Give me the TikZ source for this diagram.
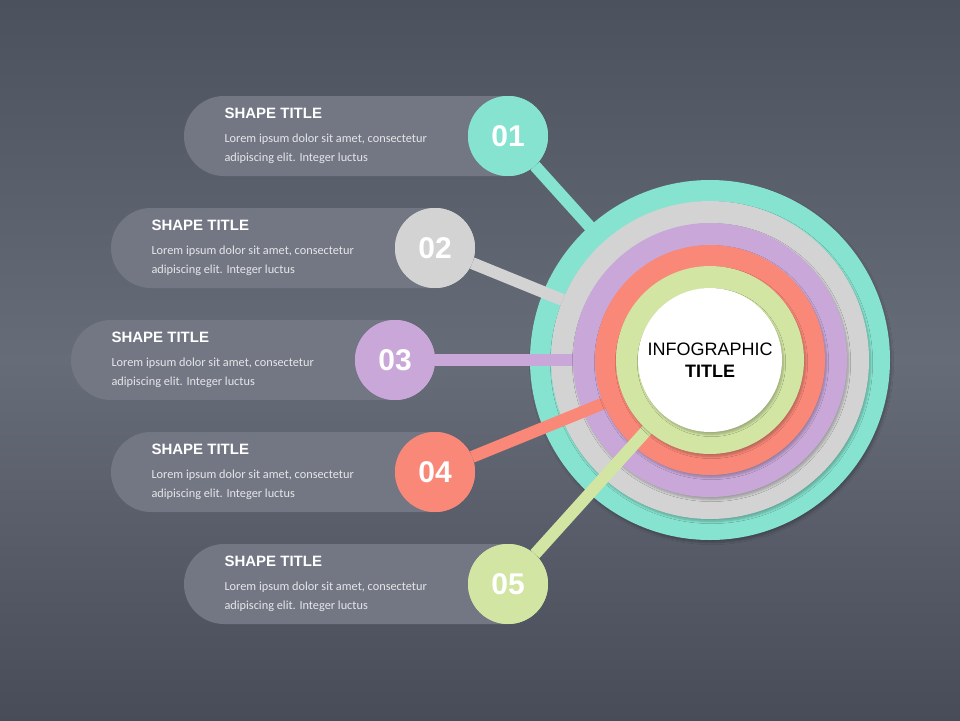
\documentclass[tikz,border=0pt]{standalone}
\usepackage{fontspec}
\setmainfont{Liberation Sans}
\newfontfamily\bodyfont{Carlito}
\usetikzlibrary{shadows.blur}
\definecolor{cteal}{HTML}{86E3CF}
\definecolor{cgray}{HTML}{D3D3D3}
\definecolor{cpurp}{HTML}{C9A8D9}
\definecolor{cred}{HTML}{F98878}
\definecolor{cgreen}{HTML}{D2E5A3}
\definecolor{pill}{HTML}{737784}
\definecolor{bgtop}{HTML}{4C515E}
\definecolor{bgmid}{HTML}{676C79}
\definecolor{bgbot}{HTML}{484C58}
\begin{document}
\begin{tikzpicture}[x=1pt,y=-1pt,
  ring/.style={circle,inner sep=0pt,minimum size=#1,blur shadow={shadow blur steps=6,shadow xshift=1.5pt,shadow yshift=-2.5pt,shadow opacity=25}},
  conn/.style={line width=12pt},
  pillbox/.style={fill=pill,rounded corners=40pt},
  badge/.style={circle,minimum size=80pt,inner sep=0pt,font=\bfseries\fontsize{30}{30}\selectfont,text=white},
  ttl/.style={anchor=west,text=white,font=\bfseries\fontsize{15}{15}\selectfont},
  body/.style={anchor=north west,text=white!82!pill,align=left,font=\bodyfont\fontsize{12.3}{19}\selectfont}]
\shade[top color=bgtop,bottom color=bgbot,middle color=bgmid] (0,0) rectangle (960,720);
\useasboundingbox (0,0) rectangle (960,720);
% pills
\foreach \x/\y in {184/96,111/208,71/320,111/432,184/544}{
  \fill[pillbox] (\x,\y) rectangle (\x+364,\y+80);}
\foreach \x/\y [count=\i] in {225/113,152/225,112/337,152/449,225/561}{
  \node[ttl] (t\i) at (\x-4,\y) {SHAPE TITLE};
  \node[body] (b\i) at (\x-4,\y+17) {Lorem ipsum dolor sit amet, consectetur\\adipiscing elit. Integer luctus};}
% circles and connectors
\coordinate (c) at (710,360);
\node[badge,fill=cteal] (n1) at (508,136) {};
\node[badge,fill=cgray] (n2) at (435,248) {};
\node[badge,fill=cpurp] (n3) at (395,360) {};
\node[badge,fill=cred] (n4) at (435,472) {};
\node[badge,fill=cgreen] (n5) at (508,584) {};
\node[ring=360pt,fill=cteal] (r1) at (c) {};
\draw[conn,cteal] (n1) -- (c);
\draw[conn,cgray] (n2) -- (c);
\node[ring=318pt,fill=cgray] (r2) at (c) {};
\draw[conn,cpurp] (n3) -- (c);
\node[ring=274pt,fill=cpurp] (r3) at (c) {};
\draw[conn,cred] (n4) -- (c);
\node[ring=230pt,fill=cred] (r4) at (c) {};
\draw[conn,cgreen] (n5) -- (c);
\node[ring=188pt,fill=cgreen] (r5) at (c) {};
\node[ring=144pt,fill=white,align=center,font=\fontsize{18}{22}\selectfont] (r6) at (c) {INFOGRAPHIC\\\textbf{TITLE}};
% badges on top
\foreach \i/\col in {1/cteal,2/cgray,3/cpurp,4/cred,5/cgreen}{
  \node[badge,fill=\col] (l\i) at (n\i) {0\i};}
\end{tikzpicture}
\end{document}
